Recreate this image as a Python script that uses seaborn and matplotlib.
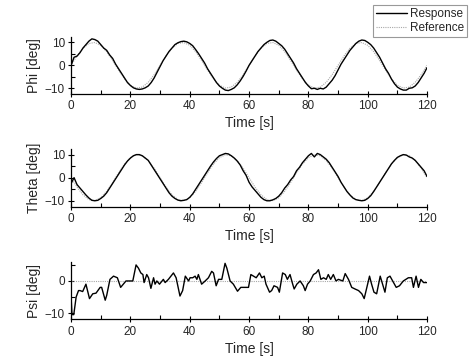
import numpy as np
import pandas as pd
import matplotlib
matplotlib.use("Agg")
import matplotlib.pyplot as plt
from matplotlib.ticker import MultipleLocator
from matplotlib.lines import Line2D
import seaborn as sns

# ---------------- data ----------------
resp_t = list(range(0, 121))          # response sampled every 1 s
ref_t = list(range(0, 121, 2))        # reference sampled every 2 s

phi_resp = [0, 3.5, 4, 5.5, 7.5, 9, 10.5, 11.5, 11.2, 10.5,
            9, 7.5, 6.5, 4.5, 3, 0.5, -1.5, -3.5, -5.5, -7.5,
            -8.8, -9.8, -10.3, -10.5, -10.3, -9.8, -9, -7.5, -5.5, -3,
            -0.5, 2, 4, 6, 7.5, 9, 9.8, 10.3, 10.5, 10.2,
            9.5, 8.5, 6.8, 5, 3, 1, -1.5, -3.5, -5.5, -7.5,
            -9, -10, -10.8, -11, -10.5, -9.8, -8.5, -6.8, -4.8, -2.5,
            0, 2, 4, 6, 7.5, 9, 10, 10.8, 11, 10.5,
            9.5, 8.5, 7, 5, 3, 1, -1.5, -3.5, -5.5, -7.5,
            -9, -10.2, -10, -10.5, -10, -10.3, -9.5, -8, -6.5, -4.5,
            -2, 0.5, 2.5, 4.5, 6.5, 8, 9.5, 10.5, 11, 10.8,
            10, 9, 7.5, 5.5, 3.5, 1, -1.5, -3.5, -6, -8,
            -9.5, -10.3, -10.8, -10.8, -10, -9.8, -9, -7.5, -5.5, -3.5,
            -1]

phi_ref = [0, 4.1, 7.4, 9.5, 9.9, 8.7, 5.9, 2.1, -2.1, -5.9, -8.7, -9.9, -9.5, -7.4, -4.1,
           0, 4.1, 7.4, 9.5, 9.9, 8.7, 5.9, 2.1, -2.1, -5.9, -8.7, -9.9, -9.5, -7.4, -4.1,
           0, 4.1, 7.4, 9.5, 9.9, 8.7, 5.9, 2.1, -2.1, -5.9, -8.7, -9.9, -9.5, -7.4, -4.1,
           0, 4.1, 7.4, 9.5, 9.9, 8.7, 5.9, 2.1, -2.1, -5.9, -8.7, -9.9, -9.5, -7.4, -4.1,
           0]

theta_resp = [-2.5, 0, -3, -4.5, -6, -7.5, -8.8, -9.8, -10, -9.8,
              -9, -8, -6.5, -4.5, -2.5, -0.5, 1.5, 3.5, 5.5, 7.2,
              8.5, 9.5, 10, 10, 9.5, 8.5, 7.5, 5.5, 3.5, 1.5,
              -0.5, -2.5, -4.5, -6.5, -8, -9, -9.7, -10, -9.8, -9.5,
              -8.5, -7, -5, -3, -1, 1, 3, 5, 6.8, 8.3,
              9.5, 10, 10.5, 10.3, 9.5, 8.5, 7.2, 5.5, 3, 1,
              -2, -4, -5.5, -7, -8.5, -9.5, -10, -10, -9.6, -9,
              -8, -6.5, -4.5, -3, -1, 0.5, 3, 4.5, 6.5, 8,
              9.5, 10.5, 9, 10.5, 10, 9, 8, 6.5, 4.5, 2.5,
              0.5, -2, -4, -6, -7.5, -8.8, -9.5, -9.8, -10, -9.8,
              -9, -7.8, -6, -4, -2, 0, 2, 4, 6, 7.5,
              8.8, 9.5, 10, 9.8, 9, 8.5, 7.5, 6, 4.5, 3,
              0.5]

theta_ref = [0, -4.1, -7.4, -9.5, -9.9, -8.7, -5.9, -2.1, 2.1, 5.9, 8.7, 9.9, 9.5, 7.4, 4.1,
             0, -4.1, -7.4, -9.5, -9.9, -8.7, -5.9, -2.1, 2.1, 5.9, 8.7, 9.9, 9.5, 7.4, 4.1,
             0, -4.1, -7.4, -9.5, -9.9, -8.7, -5.9, -2.1, 2.1, 5.9, 8.7, 9.9, 9.5, 7.4, 4.1,
             0, -4.1, -7.4, -9.5, -9.9, -8.7, -5.9, -2.1, 2.1, 5.9, 8.7, 9.9, 9.5, 7.4, 4.1,
             0]

psi_t = [0, 0.3, 0.9, 1.7, 2.5, 3, 3.9, 5, 6.2, 7.3, 8.4, 9.8, 10.3, 11.5, 12, 13.1,
         14.3, 15.6, 16.7, 17.6, 18.5, 19.9, 20.8, 21.9, 22.7, 23.5, 24.2, 24.6, 25.5,
         26.1, 26.9, 27.8, 28.3, 28.9, 29.8, 31.1, 31.7, 32.8, 34.5, 35.4, 36.7, 37.6,
         38.5, 39.6, 40.1, 41, 41.8, 42.4, 42.9, 44, 45.2, 46.3, 47.4, 48, 48.9, 49.7,
         50.8, 51.9, 52.5, 53.6, 54.7, 56.1, 57.2, 58.7, 59.8, 60.6, 61.5, 62.4, 63.5,
         64.3, 65.1, 65.7, 66.9, 67.6, 68.4, 69.6, 70.2, 71.3, 72.2, 72.9, 73.8, 74.7,
         75.2, 76.1, 77.2, 78.3, 78.9, 79.7, 80.6, 81.7, 82.6, 83.4, 84.2, 85.1, 86,
         86.7, 87.5, 88.4, 89.3, 90.1, 91.6, 92.4, 93.5, 94.6, 95.7, 96.9, 98, 98.8,
         99.7, 100.6, 101.3, 102.1, 103, 104.2, 105, 105.8, 106.6, 107.5, 108.4, 109.6,
         110.7, 112, 113.7, 114.8, 115.4, 116.3, 117.1, 117.9, 118.8, 120]
psi_resp = [-5, -10.5, -10.5, -5, -3, -3, -3.3, -1, -5.5, -4, -3.8, -2, -2, -6, -4.5, 0.5,
            1.5, 1, -2, -1, 0, 0, 0, 5, 4, 2.5, 2, -0.5, 2,
            1, -2.3, 1, -1, 0, -1, 0.5, -0.5, 0.5, 2.5, 1, -4.7, -3,
            1.5, 0, 1, 1, 1.5, 0.5, 2, -1, 0, 1, 3, 2.5, -1.5, 0.5,
            0.5, 5.5, 4, 0, -1, -3.2, -2, -2, -2, 2, 1.5, 1, 2.5,
            1, 1.5, -1, -3.5, -3, -1.5, -2, -3.5, 2.5, 2, 0.5, 2, -1,
            -2.5, -1, 0, -1.5, -3, -1, 0, 2, 2.5, 3.5, 0.5, 1, 0.5,
            2, 0.5, 2, 0, 0.5, 0, 2.3, 0.5, -2, -2.5, -3, -4, -5.5,
            -2, 1.5, -1, -3.5, -4, 1.5, -1, -3.5, 1, 1.5, 0, -2,
            -1.5, 0, 1, 1, -2, 1.5, -2, 0.5, -0.5, -0.5]
psi_ref_t = [0, 120]
psi_ref = [0, 0]

x_ticks = [0, 20, 40, 60, 80, 100, 120]
panels = [
    ("Phi [deg]", resp_t, phi_resp, ref_t, phi_ref, (-12.5, 12.3)),
    ("Theta [deg]", resp_t, theta_resp, ref_t, theta_ref, (-12.5, 12.5)),
    ("Psi [deg]", psi_t, psi_resp, psi_ref_t, psi_ref, (-12, 6)),
]

# ---------------- styling ----------------
sns.set_style("ticks")
plt.rcParams['font.family'] = ['Liberation Sans', 'DejaVu Sans']

fig = plt.figure(figsize=(4.74, 3.63), dpi=100)
rects = [
    [0.150, 0.741, 0.751, 0.157],
    [0.150, 0.431, 0.751, 0.159],
    [0.150, 0.120, 0.751, 0.159],
]

ref_color = "#a8a8a8"
for rect, (ylab, rt, rv, ft, fv, ylim) in zip(rects, panels):
    ax = fig.add_axes(rect)
    sns.lineplot(x=ft, y=fv, ax=ax, color=ref_color, linewidth=0.8,
                 linestyle=(0, (1, 1)), estimator=None, sort=False)
    sns.lineplot(x=rt, y=rv, ax=ax, color="black", linewidth=1.0,
                 estimator=None, sort=False)
    ax.set_xlim(0, 120)
    ax.set_ylim(*ylim)
    ax.set_xticks(x_ticks)
    ax.xaxis.set_minor_locator(MultipleLocator(10))
    ax.yaxis.set_major_locator(MultipleLocator(10))
    ax.yaxis.set_minor_locator(MultipleLocator(5))
    ax.tick_params(which='major', direction='inout', length=5, width=0.8,
                   labelsize=8.5, pad=2, color='black')
    ax.tick_params(which='minor', direction='in', length=3, width=0.8, color='black')
    for s in ['top', 'right']:
        ax.spines[s].set_visible(False)
    for s in ['left', 'bottom']:
        ax.spines[s].set_linewidth(0.9)
        ax.spines[s].set_color('black')
    ax.set_xlabel("Time [s]", fontsize=10, labelpad=3)
    ax.set_ylabel(ylab, fontsize=10, labelpad=3)

handles = [Line2D([], [], color='black', linewidth=1.0),
           Line2D([], [], color=ref_color, linewidth=0.8, linestyle=(0, (1, 1)))]
leg = fig.legend(handles, ["Response", "Reference"], loc='upper right',
                 bbox_to_anchor=(0.986, 0.985), fontsize=8.5, frameon=True,
                 fancybox=False, edgecolor='#999999', framealpha=1,
                 handlelength=2.6, handletextpad=0.3, borderpad=0.25,
                 labelspacing=0.15, borderaxespad=0)
leg.get_frame().set_linewidth(0.8)

fig.savefig("out.png", dpi=100)
